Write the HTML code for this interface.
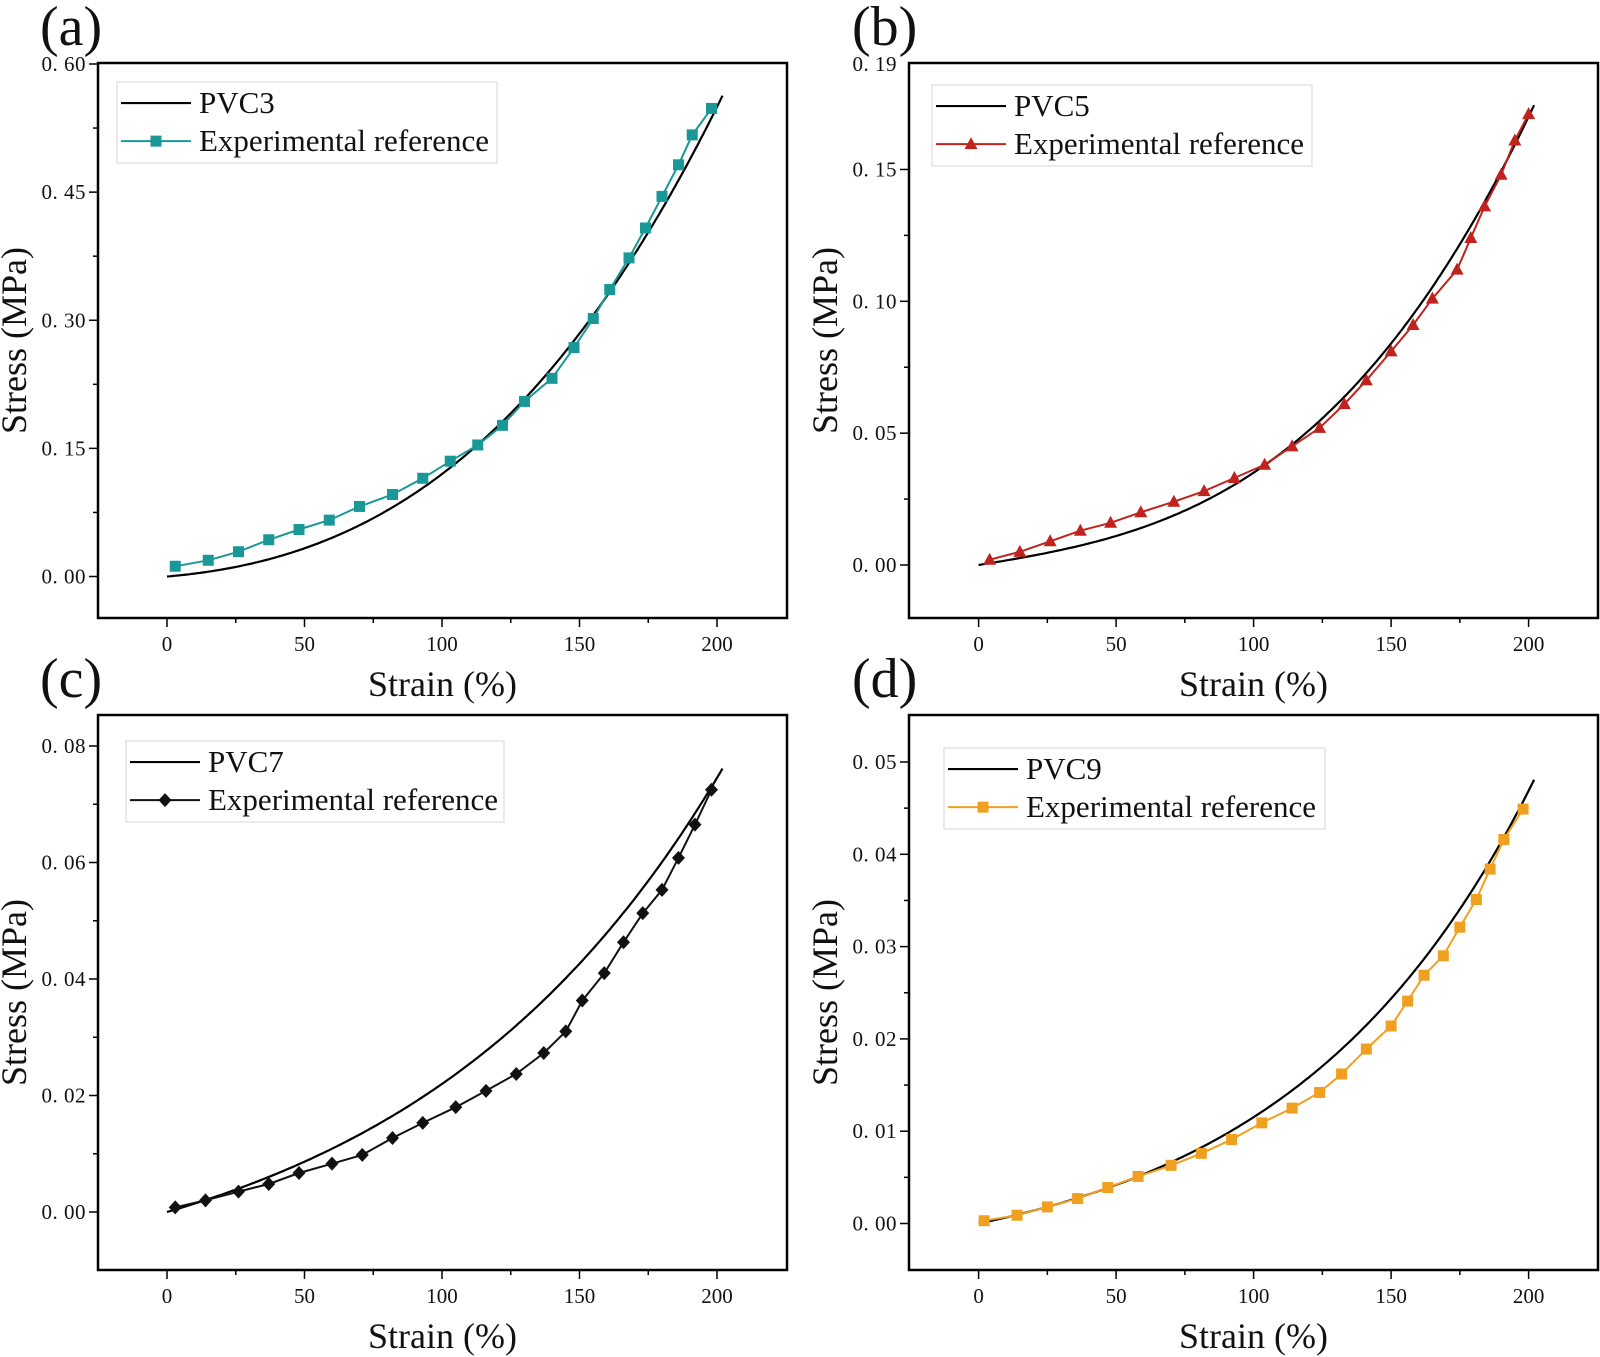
<!DOCTYPE html>
<html><head><meta charset="utf-8">
<style>
html,body{margin:0;padding:0;background:#fff;}
svg{display:block;}
text{font-family:"Liberation Serif","DejaVu Serif",serif;fill:#111;}
</style></head>
<body>
<svg id="s" width="1600" height="1357" viewBox="0 0 1600 1357" xmlns="http://www.w3.org/2000/svg"></svg>
<script>
const S=document.getElementById('s');let h='';
function P(o){
 const {L,T,R,B,x0,x200,ymaxv,ymaxpx,y0px,yticks,lbl,lx,leg,color,mk,name,ex,ey,f}=o;
 const X=v=>x0+(x200-x0)*v/200, Y=v=>y0px-(y0px-ymaxpx)*v/ymaxv;
 h+=`<rect x="${L}" y="${T}" width="${R-L}" height="${B-T}" fill="none" stroke="#000" stroke-width="2.5"/>`;
 h+=`<text x="${lx}" y="${T-18}" font-size="56">${lbl}</text>`;
 for(let v=0;v<=200;v+=25){const x=X(v);h+=`<line x1="${x}" y1="${B}" x2="${x}" y2="${B+(v%50?5:9)}" stroke="#000" stroke-width="1.5"/>`;
  if(v%50==0)h+=`<text x="${x}" y="${B+33}" font-size="21" text-anchor="middle">${v}</text>`;}
 yticks.forEach((v,i)=>{const y=Y(v);h+=`<line x1="${L}" y1="${y}" x2="${L-9}" y2="${y}" stroke="#000" stroke-width="1.5"/>`;
  h+=`<text x="${L-12}" y="${y+7}" font-size="21" text-anchor="end" letter-spacing="0.5">${v.toFixed(2).replace('.','. ')}</text>`;
  if(i<yticks.length-1){const m=Y((v+yticks[i+1])/2);h+=`<line x1="${L}" y1="${m}" x2="${L-5}" y2="${m}" stroke="#000" stroke-width="1.5"/>`;}});
 h+=`<text x="${(L+R)/2}" y="${B+78}" font-size="36" text-anchor="middle">Strain (%)</text>`;
 h+=`<text transform="translate(${L-72},${(T+B)/2}) rotate(-90)" font-size="36" text-anchor="middle">Stress (MPa)</text>`;
 let d='';for(let v=0;v<=202;v+=1){d+=(v?'L':'M')+X(v).toFixed(1)+','+Y(f(v)).toFixed(1);}
 h+=`<path d="${d}" fill="none" stroke="#000" stroke-width="2.2"/>`;
 let e='';ex.forEach((v,i)=>{e+=(i?'L':'M')+X(v).toFixed(1)+','+Y(ey[i]).toFixed(1);});
 h+=`<path d="${e}" fill="none" stroke="${color}" stroke-width="2"/>`;
 const M=(x,y)=>{if(mk=='s')return `<rect x="${x-5.5}" y="${y-5.5}" width="11" height="11" fill="${color}"/>`;
  if(mk=='t')return `<polygon points="${x},${y-7} ${x-6.5},${y+5} ${x+6.5},${y+5}" fill="${color}"/>`;
  return `<polygon points="${x},${y-7} ${x+6.5},${y} ${x},${y+7} ${x-6.5},${y}" fill="${color}"/>`;};
 ex.forEach((v,i)=>{h+=M(X(v),Y(ey[i]));});
 const [lx1,ly1,lx2,ly2]=leg;
 h+=`<rect x="${lx1}" y="${ly1}" width="${lx2-lx1}" height="${ly2-ly1}" fill="#fff" stroke="#ddd" stroke-width="1.2"/>`;
 const r1=ly1+(ly2-ly1)*0.26, r2=ly1+(ly2-ly1)*0.73;
 h+=`<line x1="${lx1+4}" y1="${r1}" x2="${lx1+74}" y2="${r1}" stroke="#000" stroke-width="2.2"/>`;
 h+=`<text x="${lx1+82}" y="${r1+10}" font-size="31">${name}</text>`;
 h+=`<line x1="${lx1+4}" y1="${r2}" x2="${lx1+74}" y2="${r2}" stroke="${color}" stroke-width="2"/>`+M(lx1+39,r2);
 h+=`<text x="${lx1+82}" y="${r2+10}" font-size="31">Experimental reference</text>`;
}
const cub=(a,b,c)=>v=>{const t=v/100;return a*t+b*t*t+c*t*t*t;};
P({L:98,T:63,R:787,B:618,x0:167,x200:717,ymaxv:0.6,ymaxpx:64,y0px:576.5,yticks:[0,0.15,0.3,0.45,0.6],lbl:'(a)',lx:40,
 leg:[117,82,497,163],color:'#1a9898',mk:'s',name:'PVC3',f:cub(0.0277,0.061,0.0313),
 ex:[3,15,26,37,48,59,70,82,93,103,113,122,130,140,148,155,161,168,174,180,186,191,198],
 ey:[0.012,0.019,0.029,0.043,0.055,0.066,0.082,0.096,0.115,0.135,0.154,0.177,0.205,0.232,0.268,0.302,0.336,0.373,0.408,0.445,0.482,0.517,0.548]});
P({L:909,T:63,R:1598,B:618,x0:978.6,x200:1528.6,ymaxv:0.19,ymaxpx:64,y0px:565,yticks:[0,0.05,0.1,0.15],lbl:'(b)',lx:852,
 leg:[932,85,1312,166],color:'#c0221e',mk:'t',name:'PVC5',f:cub(0.017,0.002,0.016),
 ex:[4,15,26,37,48,59,71,82,93,104,114,124,133,141,150,158,165,174,179,184,190,195,200],
 ey:[0.002,0.005,0.009,0.013,0.016,0.02,0.024,0.028,0.033,0.038,0.045,0.052,0.061,0.07,0.081,0.091,0.101,0.112,0.124,0.136,0.148,0.161,0.171]});
h+=`<text x="897" y="71" font-size="21" text-anchor="end" letter-spacing="0.5">0. 19</text>`;
P({L:98,T:715,R:787,B:1270,x0:167,x200:717,ymaxv:0.08,ymaxpx:746,y0px:1212,yticks:[0,0.02,0.04,0.06,0.08],lbl:'(c)',lx:40,
 leg:[126,741,504,822],color:'#111',mk:'d',name:'PVC7',f:v=>0.01583*(Math.exp(0.00871*v)-1),
 ex:[3,14,26,37,48,60,71,82,93,105,116,127,137,145,151,159,166,173,180,186,192,198],
 ey:[0.0008,0.002,0.0035,0.0048,0.0067,0.0083,0.0098,0.0127,0.0153,0.018,0.0208,0.0237,0.0273,0.031,0.0363,0.041,0.0463,0.0513,0.0553,0.0608,0.0665,0.0725]});
P({L:909,T:715,R:1598,B:1270,x0:978.6,x200:1528.6,ymaxv:0.05,ymaxpx:762,y0px:1223.5,yticks:[0,0.01,0.02,0.03,0.04,0.05],lbl:'(d)',lx:852,
 leg:[944,748,1325,829],color:'#f0a020',mk:'s',name:'PVC9',f:v=>0.00556*(Math.exp(0.01122*v)-1),
 ex:[2,14,25,36,47,58,70,81,92,103,114,124,132,141,150,156,162,169,175,181,186,191,198],
 ey:[0.0003,0.0009,0.0018,0.0027,0.0039,0.0051,0.0063,0.0076,0.0091,0.0109,0.0125,0.0142,0.0162,0.0189,0.0214,0.0241,0.0269,0.029,0.0321,0.0351,0.0384,0.0416,0.0449]});
S.innerHTML=h;
</script>
</body></html>
